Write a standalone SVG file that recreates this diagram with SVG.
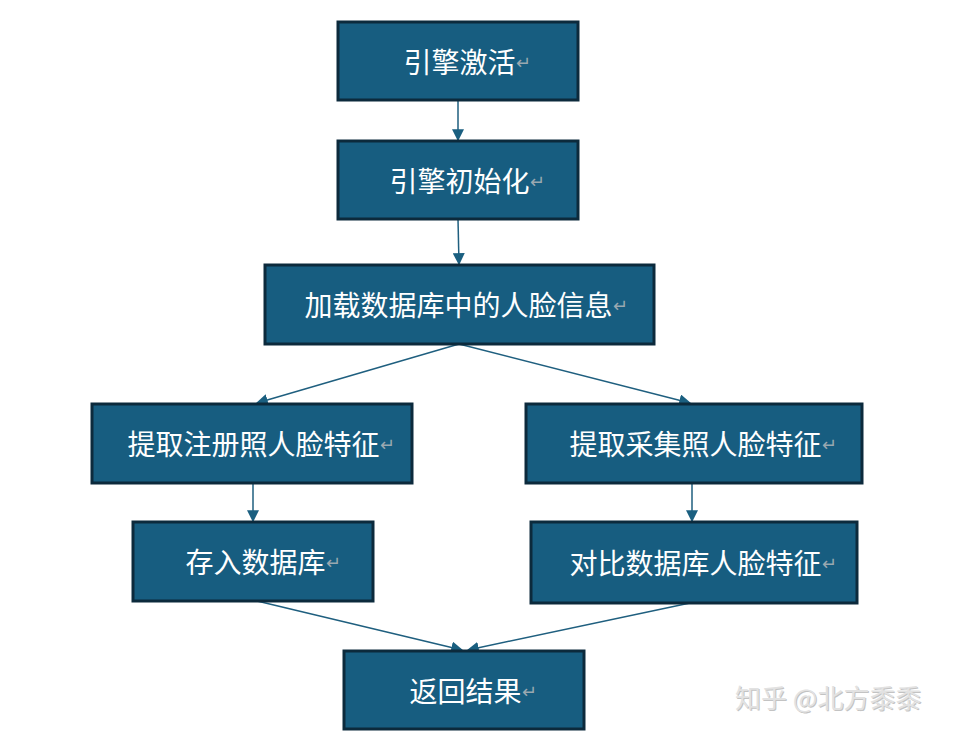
<svg xmlns="http://www.w3.org/2000/svg" width="971" height="738" viewBox="0 0 971 738">
<style>
.b{fill:#175d80;stroke:#0c2a3c;stroke-width:3}
.t{font-family:"Noto Sans CJK SC","Liberation Sans",sans-serif;font-size:28px;fill:#fff;text-anchor:middle;dominant-baseline:central}
.r{fill:#9aa8b0;font-size:18px}
.c{stroke:#1f5f7f;stroke-width:1.5;fill:none;marker-end:url(#a)}
</style>
<defs><marker id="a" viewBox="0 0 10 10" refX="9" refY="5" markerWidth="12" markerHeight="12" markerUnits="userSpaceOnUse" orient="auto"><path d="M0,0L10,5L0,10z" fill="#1a5f80"/></marker></defs>
<rect width="971" height="738" fill="#fff"/>
<g id="connectors">
<line class="c" x1="458" y1="100" x2="458" y2="140"/>
<line class="c" x1="458" y1="219" x2="459" y2="264"/>
<line class="c" x1="459" y1="344" x2="257" y2="403"/>
<line class="c" x1="459" y1="344" x2="690" y2="403"/>
<line class="c" x1="253" y1="483" x2="253" y2="521"/>
<line class="c" x1="692" y1="483" x2="692" y2="521"/>
<line class="c" x1="257" y1="601" x2="462" y2="650"/>
<line class="c" x1="690" y1="603" x2="468" y2="650"/>
</g>
<g id="n1"><rect class="b" x="338" y="22" width="240" height="78"/><text class="t" x="467" y="61">引擎激活<tspan class="r">↵</tspan></text></g>
<g id="n2"><rect class="b" x="338" y="141" width="240" height="78"/><text class="t" x="467" y="180">引擎初始化<tspan class="r">↵</tspan></text></g>
<g id="n3"><rect class="b" x="265" y="265" width="389" height="79"/><text class="t" x="466" y="304">加载数据库中的人脸信息<tspan class="r">↵</tspan></text></g>
<g id="n4"><rect class="b" x="92" y="404" width="320" height="79"/><text class="t" x="261" y="443">提取注册照人脸特征<tspan class="r">↵</tspan></text></g>
<g id="n5"><rect class="b" x="526" y="404" width="336" height="79"/><text class="t" x="703" y="443">提取采集照人脸特征<tspan class="r">↵</tspan></text></g>
<g id="n6"><rect class="b" x="133" y="522" width="240" height="79"/><text class="t" x="263" y="561">存入数据库<tspan class="r">↵</tspan></text></g>
<g id="n7"><rect class="b" x="531" y="522" width="326" height="81"/><text class="t" x="703" y="562">对比数据库人脸特征<tspan class="r">↵</tspan></text></g>
<g id="n8"><rect class="b" x="344" y="651" width="240" height="78"/><text class="t" x="473" y="690">返回结果<tspan class="r">↵</tspan></text></g>
<text x="736" y="709" font-family="Noto Sans CJK SC,sans-serif" font-size="26" fill="#888" opacity="0.5">知乎 @北方黍黍</text>
<text x="735" y="708" font-family="Noto Sans CJK SC,sans-serif" font-size="26" fill="#e2e2e2">知乎 @北方黍黍</text>
</svg>
